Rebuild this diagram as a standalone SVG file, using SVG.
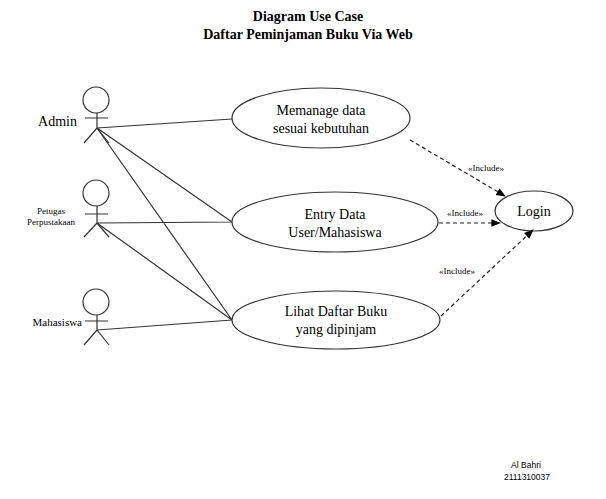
<svg xmlns="http://www.w3.org/2000/svg" width="606" height="499" viewBox="0 0 606 499">
<style>
.a{fill:none;stroke:#333;stroke-width:1.2}
.u{fill:#fff;stroke:#333;stroke-width:1.2}
.l{stroke:#333;stroke-width:1.2;fill:none}
.d{stroke:#222;stroke-width:1.2;stroke-dasharray:4,3;fill:none}
.t{font-family:"Liberation Serif",serif;fill:#000}
</style>
<defs><marker id="ar" viewBox="0 0 10 10" refX="9" refY="5" markerWidth="8" markerHeight="8" orient="auto"><path d="M0,1 L10,5 L0,9 z" fill="#000"/></marker></defs>
<rect width="606" height="499" fill="#fff"/>
<text class="t" x="308" y="21" font-size="14" font-weight="bold" text-anchor="middle">Diagram Use Case</text>
<text class="t" x="308" y="39" font-size="14" font-weight="bold" text-anchor="middle">Daftar Peminjaman Buku Via Web</text>
<g id="admin"><circle class="a" cx="96" cy="100" r="13"/><path class="a" d="M97,113V128M85,118H108M97,128L84,143M97,128L109,143"/><text class="t" x="77" y="126" font-size="14" text-anchor="end">Admin</text></g>
<g id="petugas"><circle class="a" cx="96" cy="193" r="13"/><path class="a" d="M97,206V223M85,214H108M97,223L84,237M97,223L109,237"/><text class="t" x="51" y="214" font-size="9" text-anchor="middle">Petugas</text><text class="t" x="51" y="225" font-size="9" text-anchor="middle">Perpustakaan</text></g>
<g id="mahasiswa"><circle class="a" cx="96" cy="302" r="13"/><path class="a" d="M97,315V330M85,321H108M97,330L84,345M97,330L109,345"/><text class="t" x="82" y="326" font-size="11" text-anchor="end">Mahasiswa</text></g>
<g id="uc1"><ellipse class="u" cx="321" cy="118" rx="89" ry="30"/><text class="t" x="321" y="115" font-size="14" text-anchor="middle">Memanage data</text><text class="t" x="321" y="133" font-size="14" text-anchor="middle">sesuai kebutuhan</text></g>
<g id="uc2"><ellipse class="u" cx="335" cy="222" rx="103" ry="30"/><text class="t" x="335" y="219" font-size="14" text-anchor="middle">Entry Data</text><text class="t" x="335" y="237" font-size="14" text-anchor="middle">User/Mahasiswa</text></g>
<g id="uc3"><ellipse class="u" cx="336" cy="320" rx="104" ry="29"/><text class="t" x="336" y="316" font-size="14" text-anchor="middle">Lihat Daftar Buku</text><text class="t" x="336" y="334" font-size="14" text-anchor="middle">yang dipinjam</text></g>
<g id="login"><ellipse class="u" cx="534" cy="211" rx="39" ry="20"/><text class="t" x="534" y="216" font-size="14" text-anchor="middle">Login</text></g>
<g id="connectors">
<path class="l" d="M97,128L232,119M97,128L232,222M97,128L232,320M97,223L232,222M97,223L232,320M97,330L232,320"/>
<path class="d" d="M410,140L505,196" marker-end="url(#ar)"/>
<path class="d" d="M439,223L500,223" marker-end="url(#ar)"/>
<path class="d" d="M441,316L533,230" marker-end="url(#ar)"/>
<text class="t" x="486" y="171" font-size="9" text-anchor="middle">«Include»</text>
<text class="t" x="465" y="216" font-size="9" text-anchor="middle">«Include»</text>
<text class="t" x="457" y="274" font-size="9" text-anchor="middle">«Include»</text>
</g>
<text x="526" y="468" font-family="Liberation Sans,sans-serif" font-size="8.5" text-anchor="middle">Al Bahri</text>
<text x="527" y="480" font-family="Liberation Sans,sans-serif" font-size="8.5" text-anchor="middle">2111310037</text>
</svg>
